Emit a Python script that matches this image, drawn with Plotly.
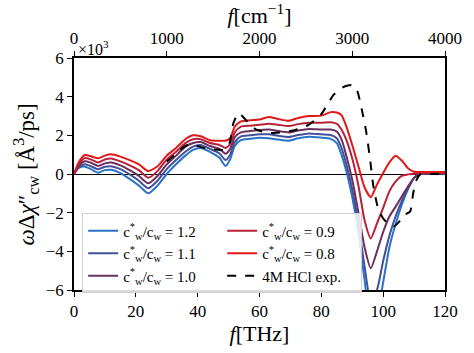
import plotly.graph_objects as go

# frequency grid (THz) for simulated curves
x_sim = [0, 1.5, 3.5, 5.5, 7.8, 10, 12, 15, 18, 21, 24, 27, 30, 33, 36, 38.5, 41, 44, 47, 49, 50.5,
         52, 54, 57, 60, 63, 66, 69.5, 72.5, 76, 80, 83, 85, 86.5, 88, 90, 92, 94, 96, 98, 100,
         102, 104, 106, 108, 110, 112, 115, 120]

y_12 = [0, 0.3, 0.38, 0.25, 0.07, 0.2, 0.22, 0.05, -0.25, -0.6, -1.0, -0.6, 0.0, 0.5, 0.95, 1.25,
        1.35, 1.15, 0.85, 0.42, 0.75, 1.45, 1.75, 1.82, 1.88, 1.85, 1.78, 1.72, 1.85, 1.93, 1.88,
        1.82, 1.6, 1.0, 0.2, -1.2, -3.0, -5.5, -7.5, -7.2, -5.6, -3.8, -2.6, -1.6, -0.8, -0.2,
        0.0, 0.02, 0.02]
y_11 = [0, 0.35, 0.5, 0.4, 0.25, 0.37, 0.4, 0.25, -0.02, -0.35, -0.74, -0.35, 0.25, 0.72, 1.15,
        1.42, 1.5, 1.3, 1.07, 0.72, 1.0, 1.65, 1.95, 2.0, 2.05, 2.05, 1.98, 1.92, 2.02, 2.1, 2.05,
        2.02, 1.85, 1.35, 0.55, -0.8, -2.6, -4.8, -6.6, -6.0, -4.5, -3.2, -2.2, -1.4, -0.75, -0.2,
        0.0, 0.02, 0.02]
y_10 = [0, 0.42, 0.66, 0.58, 0.42, 0.55, 0.6, 0.45, 0.2, -0.1, -0.48, -0.1, 0.5, 0.95, 1.4, 1.6,
        1.65, 1.45, 1.3, 1.05, 1.3, 1.9, 2.15, 2.22, 2.27, 2.3, 2.22, 2.15, 2.25, 2.33, 2.3, 2.3,
        2.2, 1.8, 1.0, -0.3, -2.0, -3.8, -4.88, -4.0, -3.0, -2.2, -1.7, -1.17, -0.65, -0.2, 0.02,
        0.03, 0.03]
y_09 = [0, 0.5, 0.82, 0.75, 0.6, 0.75, 0.8, 0.65, 0.45, 0.2, -0.2, 0.15, 0.75, 1.15, 1.6, 1.8,
        1.8, 1.6, 1.5, 1.35, 1.55, 2.15, 2.45, 2.5, 2.55, 2.6, 2.55, 2.48, 2.58, 2.65, 2.65, 2.68,
        2.6, 2.3, 1.8, 0.8, -0.6, -2.4, -3.33, -2.55, -1.75, -0.9, -0.4, -0.1, -0.02, 0.02, 0.05,
        0.05, 0.05]
y_08 = [0, 0.6, 0.98, 0.92, 0.81, 0.95, 1.02, 0.9, 0.72, 0.5, 0.15, 0.4, 0.95, 1.35, 1.8, 2.0,
        1.95, 1.75, 1.72, 1.72, 1.85, 2.45, 2.72, 2.78, 2.82, 2.95, 2.85, 2.75, 2.9, 3.0, 3.02,
        3.2, 3.18, 3.05, 2.5, 1.5, 0.4, -0.7, -1.2, -0.55, 0.05, 0.6, 0.95, 0.7, 0.3, 0.12, 0.1,
        0.1, 0.1]

# experimental 4M HCl
x_exp = [30, 33, 36, 37.5, 40, 43, 45, 48, 49.5, 50.5, 51.5, 53.2, 55, 57, 59, 62, 65, 68, 71, 74,
         76, 78, 80, 82, 84, 86, 88, 90, 91.5, 93, 94.5, 95.8, 96.8, 98.5, 100, 101.5, 103.3, 105,
         107, 108.7, 109.7, 110.8, 112, 114, 120]
y_exp = [0.65, 1.05, 1.45, 1.55, 1.45, 1.3, 1.27, 1.25, 1.35, 1.7, 2.6, 3.15, 2.9, 2.55, 2.3, 2.15,
         2.12, 2.17, 2.25, 2.4, 2.55, 2.8, 3.1, 3.6, 4.1, 4.4, 4.55, 4.6, 4.35, 3.4, 2.2, 0.72, -0.6,
         -1.86, -2.3, -2.55, -2.72, -2.5, -2.1, -1.95, -1.0, -0.3, -0.02, 0, 0]

labels = ["1.2", "1.1", "1.0", "0.9", "0.8"]
series = [y_12, y_11, y_10, y_09, y_08]
colors = ["#2a72c8", "#44509a", "#6b2f5e", "#b8203a", "#e01818"]
ranks = [1, 3, 5, 2, 4]

top_ticks = [0, 1000, 2000, 3000, 4000]
yticks = [-6, -4, -2, 0, 2, 4, 6]

FONT = "Liberation Serif"

fig = go.Figure()
for lab, ys, col, rk in zip(labels, series, colors, ranks):
    fig.add_trace(go.Scatter(
        x=x_sim, y=ys, mode="lines", line=dict(color=col, width=2, shape="spline", smoothing=0.6),
        name="c<sup>*</sup><sub>w</sub>/c<sub>w</sub> = " + lab, legendrank=rk))
fig.add_trace(go.Scatter(
    x=x_exp, y=y_exp, mode="lines", line=dict(color="black", width=2, dash="dash", shape="spline", smoothing=0.6),
    name="4M HCl exp.", legendrank=6))
# invisible trace to carry the top axis
fig.add_trace(go.Scatter(x=[0, 4000], y=[0, 0], xaxis="x2", mode="lines",
                         line=dict(width=0), opacity=0, showlegend=False, hoverinfo="skip"))

axis_common = dict(showline=True, linecolor="black", linewidth=1.5, ticks="outside", ticklen=5,
                   tickwidth=1.2, tickcolor="black", showgrid=False,
                   tickfont=dict(family=FONT, size=17, color="black"))

fig.update_layout(
    width=474, height=353,
    margin=dict(l=74, r=27, t=58, b=63),
    paper_bgcolor="white", plot_bgcolor="white",
    font=dict(family=FONT, color="black"),
    xaxis=dict(range=[0, 120], tickvals=[0, 20, 40, 60, 80, 100, 120], mirror=True, zeroline=False,
               title=dict(text="<i>f</i>[THz]", font=dict(family=FONT, size=22), standoff=2),
               **axis_common),
    xaxis2=dict(range=[0, 4000], tickvals=top_ticks, overlaying="x", side="top", zeroline=False,
                title=dict(text="<i>f</i>[cm<sup>−1</sup>]", font=dict(family=FONT, size=22), standoff=2),
                **axis_common),
    yaxis=dict(range=[-6, 6], tickvals=yticks, mirror=True, zeroline=True, zerolinecolor="black",
               zerolinewidth=1, **axis_common),
    legend=dict(orientation="h", x=0.022, y=0.33, xanchor="left", yanchor="top",
                entrywidth=94, bgcolor="rgba(255,255,255,0.85)", bordercolor="#d0d0d0", borderwidth=1,
                font=dict(family=FONT, size=15, color="black"), tracegroupgap=0),
    showlegend=True,
    annotations=[
        dict(text="×10<sup>3</sup>", xref="paper", yref="paper", x=0.0, y=1.0,
             xanchor="left", yanchor="bottom", showarrow=False, yshift=-2, xshift=2,
             font=dict(family=FONT, size=16, color="black")),
        dict(text="<i>ω</i>Δ<i>χ</i>″<sub>cw</sub> [Å<sup>3</sup>/ps]", xref="paper", yref="paper",
             x=-0.131, y=0.5, xanchor="center", yanchor="middle", textangle=-90, showarrow=False,
             font=dict(family=FONT, size=23, color="black")),
    ],
)

fig.write_html("out.html")
